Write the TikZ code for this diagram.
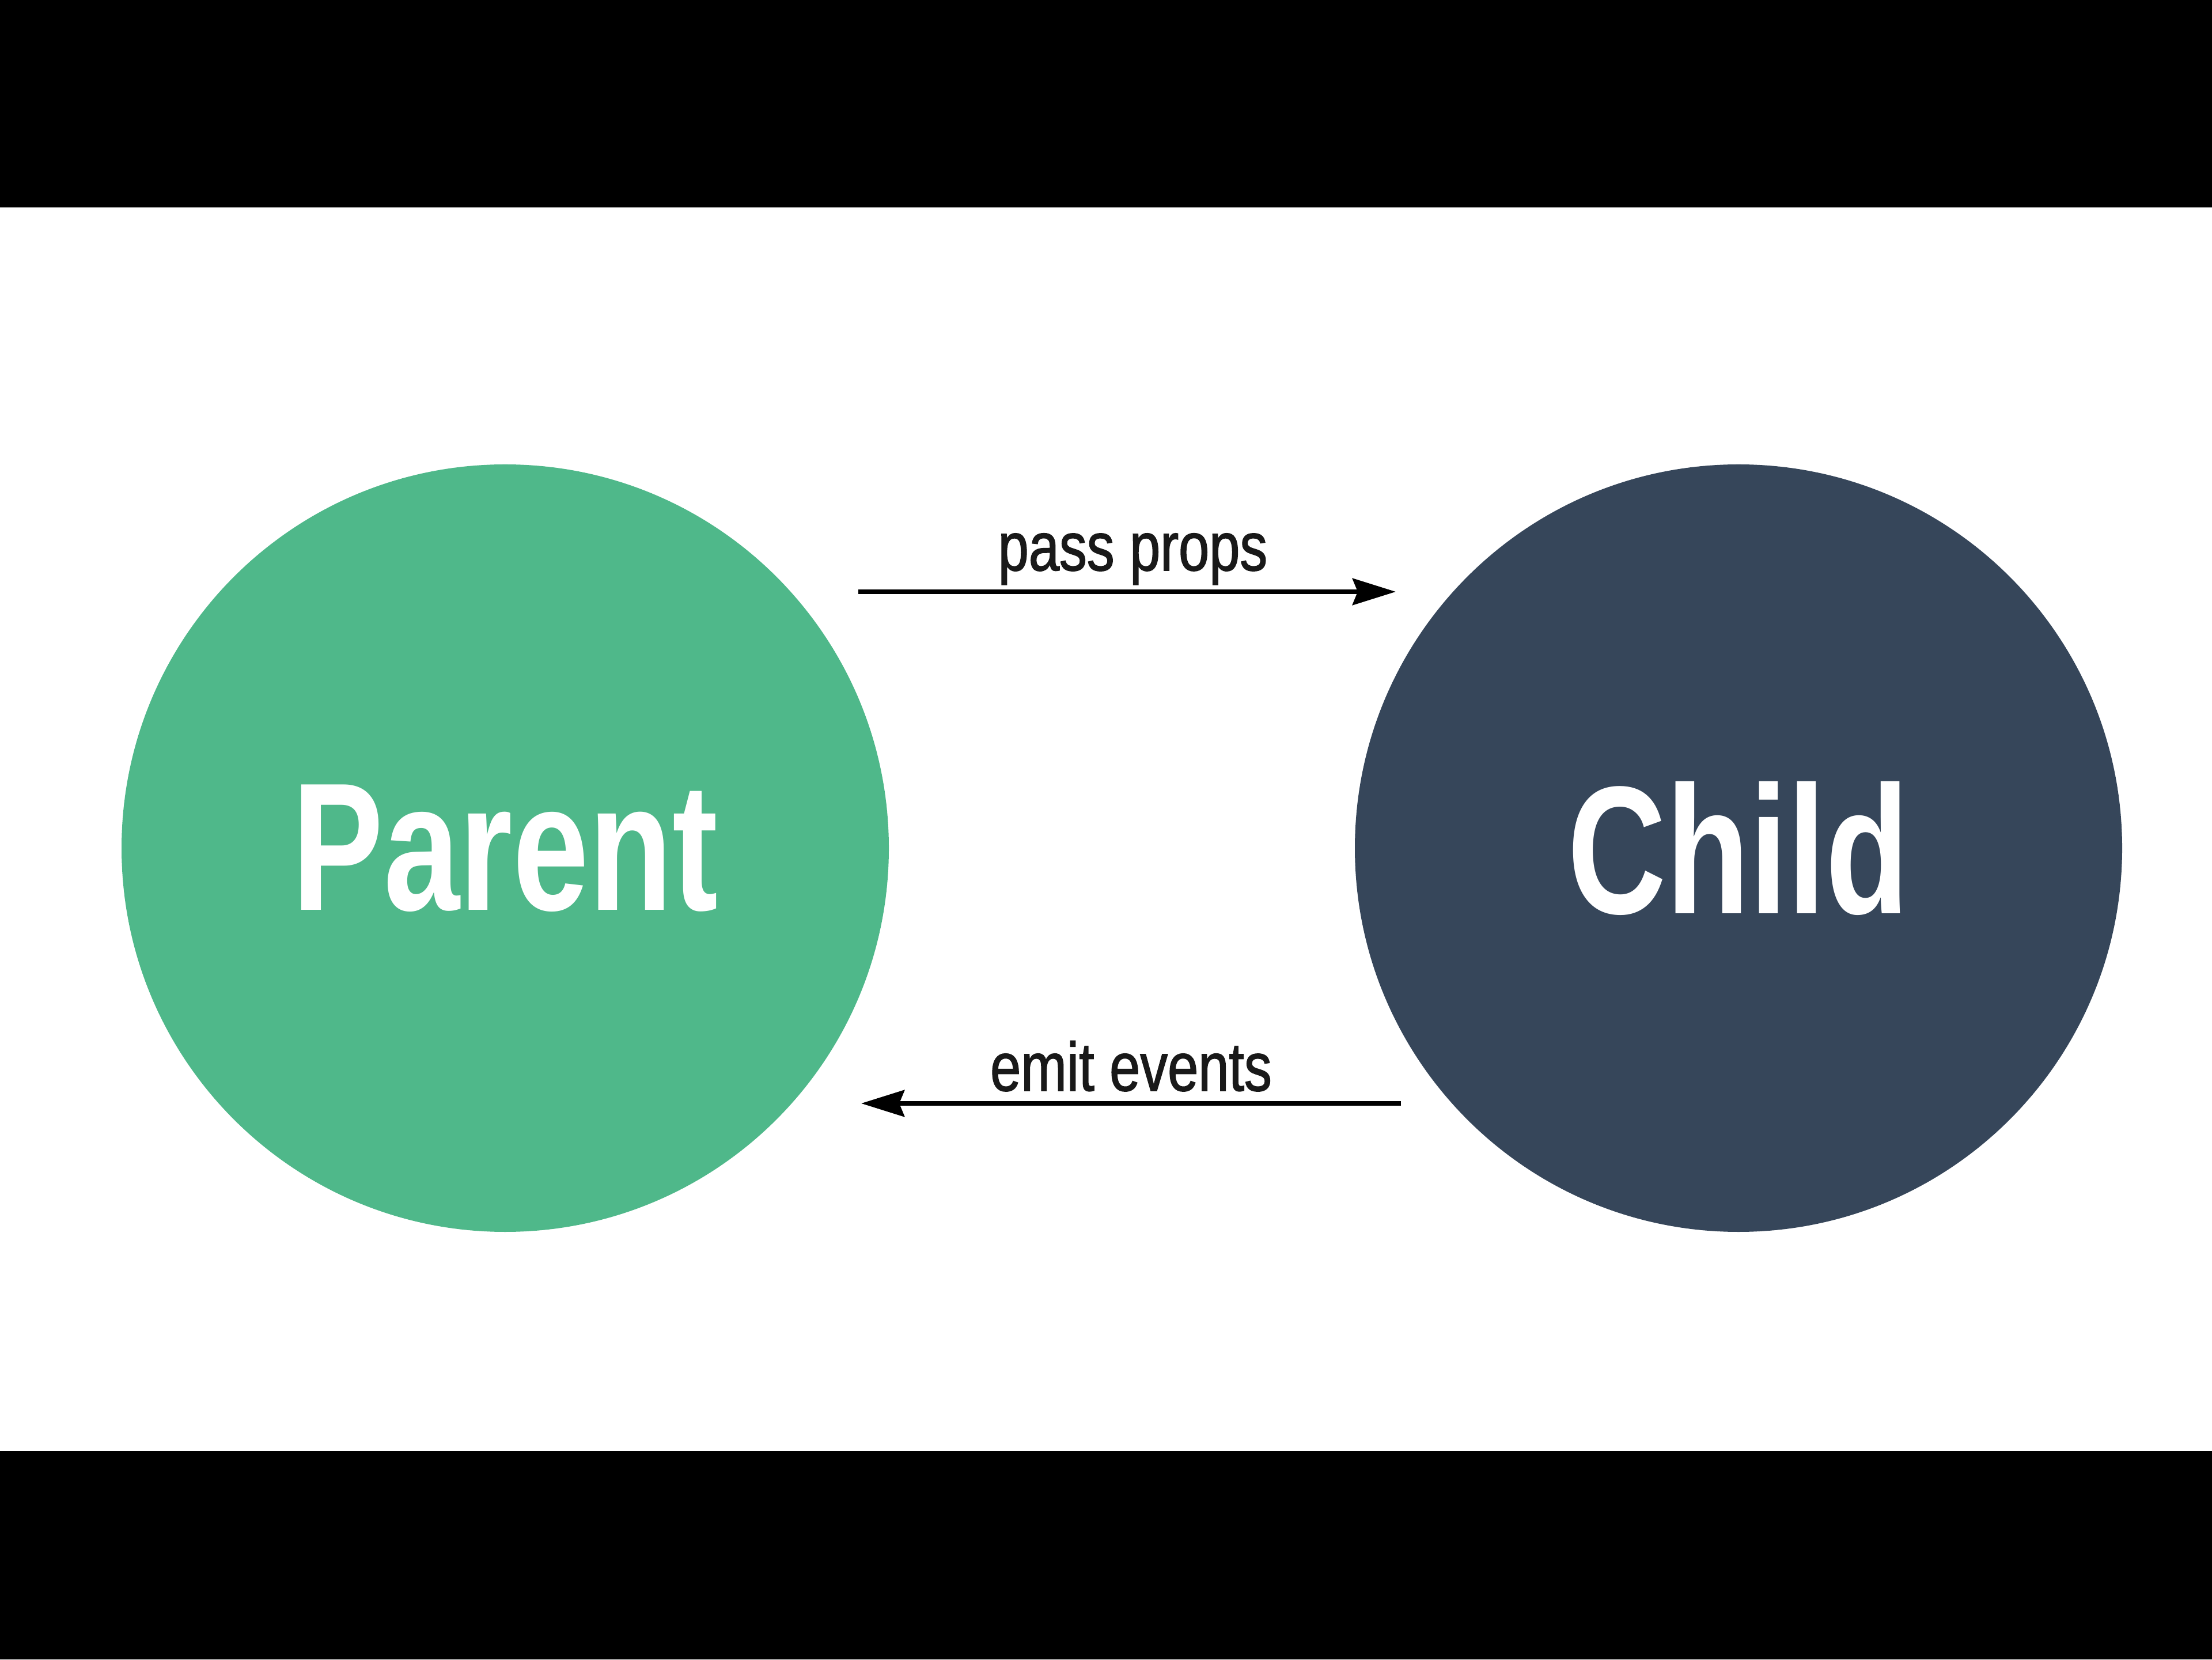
\documentclass[tikz,border=0pt]{standalone}
\usepackage{fontspec}
\usetikzlibrary{arrows.meta,positioning}

\newfontfamily\namefont[FakeStretch=0.75]{Liberation Sans}
\newfontfamily\labelfont[FakeStretch=0.80,FakeBold=1.3]{Liberation Sans}
\definecolor{vuegreen}{HTML}{4FB88A}
\definecolor{vuedark}{HTML}{36465A}

\begin{document}
\begin{tikzpicture}[
  bigcircle/.style={circle, minimum size=13.32cm, inner sep=0pt, text=white,
    font=\namefont\bfseries\fontsize{90}{90}\selectfont},
  flowarrow/.style={line width=2.3pt, -{Stealth[length=7.5mm, width=4.6mm, inset=0.9mm]}},
  flowlbl/.style={inner sep=0pt, anchor=base, text=black!90, font=\labelfont\fontsize{34}{34}\selectfont}
]

\useasboundingbox (0,0) rectangle (38.4,28.8);

% letterbox bars
\fill[black] (0,25.2) rectangle (38.4,28.8);
\fill[black] (0,0) rectangle (38.4,3.62);

\node[bigcircle, fill=vuegreen] (parent) at (8.77,14.08) {Parent};
\node[bigcircle, fill=vuedark] (child) at (30.18,14.08) {Child};

\coordinate (props0) at (14.90,18.53);
\coordinate (props1) at (24.23,18.53);
\coordinate (events0) at (24.32,9.65);
\coordinate (events1) at (14.95,9.65);

\draw[flowarrow] (props0) -- node[flowlbl, yshift=3.7mm, xshift=1mm] (propslbl) {pass props} (props1);
\draw[flowarrow] (events0) -- node[flowlbl, yshift=2.2mm] (eventslbl) {emit events} (events1);

\end{tikzpicture}
\end{document}
